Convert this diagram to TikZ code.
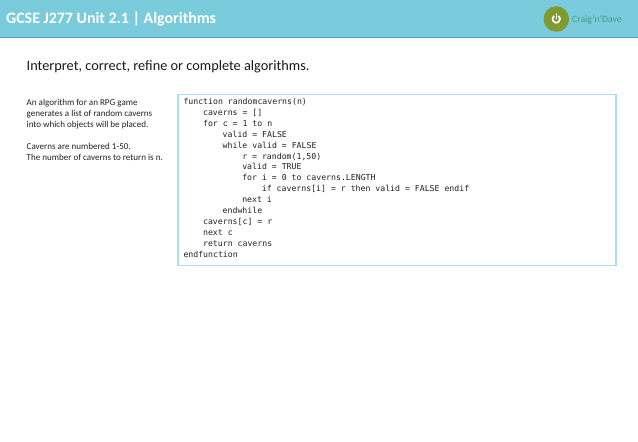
\documentclass[tikz,border=0pt]{standalone}
\usepackage{fontspec}
\setmainfont{Carlito}
\setmonofont{DejaVu Sans Mono}
\definecolor{headbg}{HTML}{7ACBDB}
\definecolor{headline}{HTML}{5B9BD5}
\definecolor{boxline}{HTML}{A5DFF2}
\definecolor{logogreen}{HTML}{7F9A2E}
\definecolor{logotext}{HTML}{3F9F85}
\definecolor{bodytext}{HTML}{222222}
\tikzset{
  px/.style={x=1pt,y=-1pt},
  lefttext/.style={anchor=north west,inner sep=0pt,align=left,font=\fontsize{9.05}{11.1}\selectfont,text=bodytext},
  codeline/.style={anchor=base west,inner sep=0pt,font=\fontsize{8.2}{10}\ttfamily,text=bodytext},
}
\begin{document}
\begin{tikzpicture}[px]
\useasboundingbox (0,0) rectangle (638,442);
\fill[white] (0,0) rectangle (638,442);
\fill[headbg] (0,0) rectangle (638,37);
\fill[headline] (0,36.8) rectangle (638,38.2);
\node[anchor=base west,inner sep=0pt,text=white,font=\fontsize{15.9}{20}\selectfont\bfseries] (title) at (6,23) {GCSE J277 Unit 2.1 | Algorithms};
\node[anchor=base west,inner sep=0pt,text=black!90,font=\fontsize{14.3}{20}\selectfont] (sub) at (26.5,70.5) {Interpret, correct, refine or complete algorithms.};
\node[circle,fill=logogreen,minimum size=25.5pt,inner sep=0pt] (logo) at (556.3,19) {};
\draw[white,line width=1.7pt] ([shift={(125:3.8pt)}]logo.center) arc[start angle=125,end angle=415,radius=3.8pt];
\draw[white,line width=1.5pt,line cap=round] ([yshift=0.5pt]logo.center) -- ([yshift=5pt]logo.center);
\node[anchor=base west,inner sep=0pt,text=logotext,font=\fontsize{9.7}{12}\selectfont] (brand) at (572,22.5) {Craig'n'Dave};
\node[lefttext] (intro) at (26.5,98.7) {An algorithm for an RPG game\\generates a list of random caverns\\into which objects will be placed.\\[11.1pt]Caverns are numbered 1-50.\\The number of caverns to return is n.};
\node[draw=boxline,line width=1.2pt,fill=white,anchor=north west,minimum width=438pt,minimum height=171pt,inner sep=0pt] (codebox) at (177.3,94) {};
\foreach \n/\ind/\txt in {
0/0/{function randomcaverns(n)},
1/1/{caverns = []},
2/1/{for c = 1 to n},
3/2/{valid = FALSE},
4/2/{while valid = FALSE},
5/3/{r = random(1,50)},
6/3/{valid = TRUE},
7/3/{for i = 0 to caverns.LENGTH},
8/4/{if caverns[i] = r then valid = FALSE endif},
9/3/{next i},
10/2/{endwhile},
11/1/{caverns[c] = r},
12/1/{next c},
13/1/{return caverns},
14/0/{endfunction}}{
  \node[codeline] (code\n) at ({183.3+19.6*\ind},{104.5+10.9*\n}) {\txt};
}
\end{tikzpicture}
\end{document}
